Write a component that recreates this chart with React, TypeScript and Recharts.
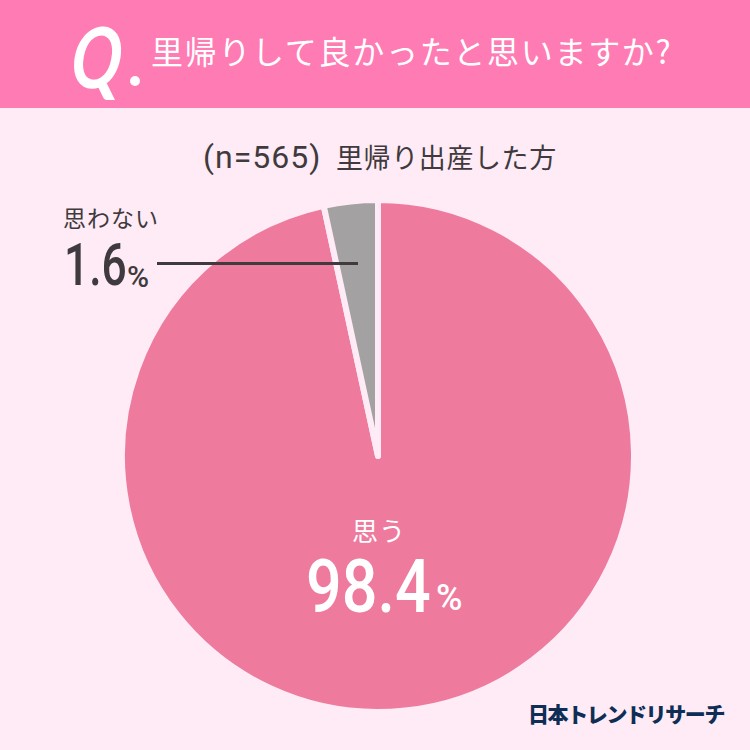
import React from 'react';
import { PieChart, Pie, Cell } from 'recharts';

const categories = ['思う', '思わない'];
const printedLabels = ['98.4', '1.6'];
const drawnShares = [96.6, 3.4];
const sliceColors = ['#EE7A9E', '#A3A1A2'];

const question = '里帰りして良かったと思いますか?';
const sampleSize = '(n=565)';
const subtitle = '里帰り出産した方';
const brand = '日本トレンドリサーチ';

const chartData = categories.map((name, i) => ({ name, value: drawnShares[i] }));

const JP = '"Noto Sans CJK JP", "Noto Sans", sans-serif';
const NUM = 'Roboto, "Noto Sans", sans-serif';
const DARK = '#3E3A3D';

const Text = ({ style, children }: { style: React.CSSProperties; children: React.ReactNode }) => (
  <div style={{ position: 'absolute', whiteSpace: 'nowrap', lineHeight: 1, fontFamily: JP, ...style }}>
    {children}
  </div>
);

export default function App() {
  return (
    <div style={{ position: 'fixed', left: 0, top: 0, width: 750, height: 750, background: '#FEEBF5', overflow: 'hidden' }}>
      <div style={{ position: 'absolute', left: 0, top: 0, width: 750, height: 108, background: '#FF7BB4' }} />

      <div style={{ position: 'absolute', left: 0, top: 0 }}>
        <PieChart width={750} height={750} margin={{ top: 0, right: 0, bottom: 0, left: 0 }}>
          <Pie
            data={chartData}
            dataKey="value"
            nameKey="name"
            cx={378}
            cy={456}
            innerRadius={0}
            outerRadius={256}
            startAngle={90}
            endAngle={-270}
            stroke="#FEEBF5"
            strokeWidth={6}
            isAnimationActive={false}
          >
            {chartData.map((d, i) => (
              <Cell key={d.name} fill={sliceColors[i]} strokeLinejoin="round" />
            ))}
          </Pie>
        </PieChart>
      </div>

      <Text style={{ left: 72, top: 14, fontSize: 84, fontFamily: 'Lato, sans-serif', fontStyle: 'italic', fontWeight: 700, color: '#fff', transform: 'scaleX(0.8) skewX(-6deg)', transformOrigin: 'left' }}>Q</Text>
      <div style={{ position: 'absolute', left: 130, top: 76, width: 10, height: 10, borderRadius: 5, background: '#fff' }} />
      <Text style={{ left: 151, top: 34, fontSize: 32, letterSpacing: 1.7, fontWeight: 400, color: '#fff' }}>{question}</Text>

      <Text style={{ left: 203, top: 141, fontSize: 32, fontFamily: NUM, letterSpacing: 1, color: DARK }}>{sampleSize}</Text>
      <Text style={{ left: 336, top: 143, fontSize: 27, letterSpacing: 0.6, color: DARK }}>{subtitle}</Text>

      <Text style={{ left: 63, top: 206, fontSize: 23, letterSpacing: 1, color: DARK }}>{categories[1]}</Text>
      <Text style={{ left: 64, top: 235, fontSize: 60, fontFamily: NUM, fontWeight: 500, color: DARK, transform: 'scaleX(0.74)', transformOrigin: 'left' }}>{printedLabels[1]}</Text>
      <Text style={{ left: 127, top: 262, fontSize: 30, fontFamily: NUM, fontWeight: 500, color: DARK }}>%</Text>
      <div style={{ position: 'absolute', left: 157, top: 262, width: 201, height: 3, background: DARK }} />

      <Text style={{ left: 352, top: 517, fontSize: 26, letterSpacing: 1, color: '#fff' }}>{categories[0]}</Text>
      <Text style={{ left: 306, top: 550, fontSize: 74, fontFamily: NUM, fontWeight: 500, color: '#fff', transform: 'scaleX(0.85)', transformOrigin: 'left' }}>{printedLabels[0]}</Text>
      <Text style={{ left: 436, top: 580, fontSize: 36, fontFamily: NUM, fontWeight: 500, color: '#fff' }}>%</Text>

      <Text style={{ left: 528, top: 703, fontSize: 21, fontWeight: 900, letterSpacing: -1.4, color: '#0E2E55' }}>{brand}</Text>
    </div>
  );
}
